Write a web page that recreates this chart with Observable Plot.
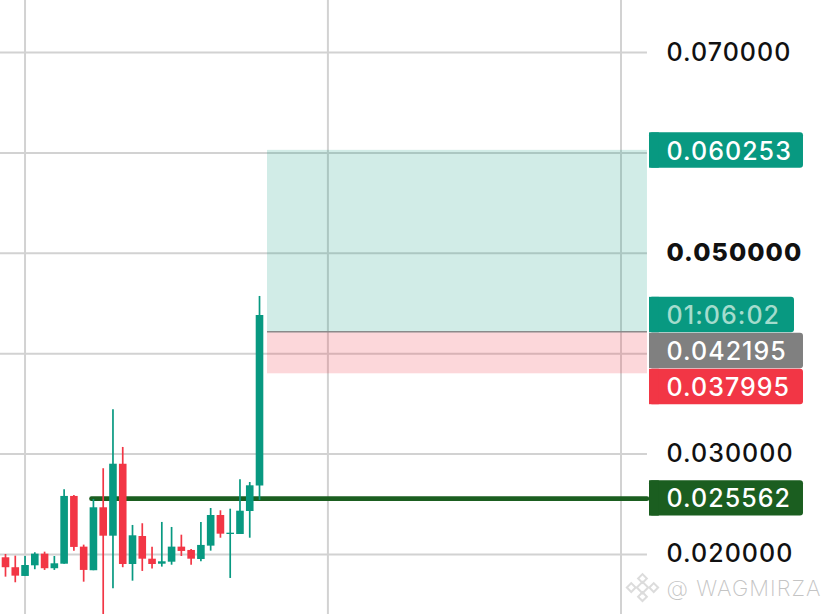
<!DOCTYPE html>
<html>
<head>
<meta charset="utf-8">
<script src="https://cdn.jsdelivr.net/npm/d3@7"></script>
<script src="https://cdn.jsdelivr.net/npm/@observablehq/plot@0.6"></script>
<style>
html,body{margin:0;padding:0;background:#fff;overflow:hidden}
svg{display:block}
</style>
</head>
<body>
<div id="chart"></div>
<script>
const GREEN = "#089981", RED = "#F23645", GREY = "#808080", DARK = "#1B5E20", GRID = "#d2d2d2";

const opens  = [.01967,.01868,.01781,.01887,.02003,.01858,.01903,.02578,.02073,.01838,.02465,.02182,.02899,.01900,.02179,.01953,.01903,.01923,.02073,.02040,.01950,.02083,.02388,.02199,.02199,.02428,.02682];
const closes = [.01868,.01784,.01890,.02003,.01858,.01907,.02578,.02070,.01841,.02465,.02182,.02899,.01900,.02186,.01953,.01900,.01927,.02073,.02030,.01953,.02090,.02388,.02202,.02212,.02431,.02684,.04380];
const highs  = [.02000,.01983,.01980,.02017,.02023,.01980,.02644,.02588,.02093,.02548,.02854,.03441,.03066,.02289,.02306,.02073,.02319,.02269,.02192,.02050,.02319,.02458,.02435,.02451,.02744,.02717,.04570];
const lows   = [.01774,.01718,.01781,.01848,.01841,.01841,.01903,.02033,.01724,.01838,.01380,.01658,.01868,.01734,.01831,.01854,.01874,.01893,.01980,.01893,.01927,.02033,.02162,.01761,.02199,.02162,.02538];
const candles = opens.map((o,i)=>({i,o,c:closes[i],h:highs[i],l:lows[i]}));

const gridPrices = [.02,.03,.04,.05,.06,.07];
const gridIndex = [2,33,63];
const gridEnd = 65.71, zoneStart = 26.82;
const target = .060253, entry = .042195, stop = .037995, level = .025562, levelStart = 8.85;

const axisLabels = [
  {p:.07,t:"0.070000"},{p:.03,t:"0.030000"},{p:.02,t:"0.020000"}
];
const boldLabels = [{p:.05,t:"0.050000"}];
const tags = [
  {p:.060236,t:"0.060253",f:GREEN,c:"#fff",end:81.68},
  {p:.04385,t:"01:06:02",f:GREEN,c:"#a4dccd",end:80.76},
  {p:.04027,t:"0.042195",f:GREY,c:"#fff",end:81.68},
  {p:.03668,t:"0.037995",f:RED,c:"#fff",end:81.68},
  {p:.02558,t:"0.025562",f:DARK,c:"#fff",end:81.68}
];
const tagStart = 65.92, tagText = 67.66, tagHalf = .00176;

const logoBig = [{i:65.2,p:.0167}];
const logoSmall = [{i:64.05,p:.0167},{i:66.35,p:.0167},{i:65.2,p:.0176},{i:65.2,p:.0158}];

const plot = Plot.plot({
  width:828, height:614, margin:0,
  style:{background:"#fff", letterSpacing:"1.05px"},
  x:{domain:[-0.512,84.24], range:[0,828], axis:null},
  y:{domain:[.01402,.07518], range:[614,0], axis:null},
  marks:[
    Plot.ruleY(gridPrices,{y:d=>d,x1:-0.512,x2:gridEnd,stroke:GRID,strokeWidth:2}),
    Plot.ruleX(gridIndex,{x:d=>d,y1:.01402,y2:.07518,stroke:GRID,strokeWidth:2}),
    Plot.rect([0],{x1:zoneStart,x2:gridEnd,y1:entry,y2:target,fill:GREEN,fillOpacity:.19}),
    Plot.rect([0],{x1:zoneStart,x2:gridEnd,y1:stop,y2:entry,fill:RED,fillOpacity:.2}),
    Plot.ruleY([entry],{x1:zoneStart,x2:gridEnd,stroke:"#8a8a8a",strokeWidth:1.5}),
    Plot.ruleY([level],{x1:levelStart,x2:gridEnd,stroke:DARK,strokeWidth:4.6,strokeLinecap:"round"}),
    Plot.ruleX(candles,{x:"i",y1:"l",y2:"h",stroke:d=>d.c>=d.o?GREEN:RED,strokeWidth:1.7}),
    Plot.ruleX(candles,{x:"i",y1:"o",y2:"c",stroke:d=>d.c>=d.o?GREEN:RED,strokeWidth:7.6}),
    Plot.rect(tags,{x1:tagStart,x2:"end",y1:d=>d.p-tagHalf,y2:d=>d.p+tagHalf,fill:"f",rx:3}),
    Plot.rect(tags,{x1:tagStart,x2:tagStart+1,y1:d=>d.p-tagHalf,y2:d=>d.p+tagHalf,fill:"f"}),
    Plot.text(tags,{x:tagText,y:"p",text:"t",fill:"c",textAnchor:"start",fontSize:25,fontFamily:"Inter",fontWeight:500,dy:1}),
    Plot.text(axisLabels,{x:tagText,y:"p",text:"t",fill:"#111",textAnchor:"start",fontSize:25,fontFamily:"Inter",fontWeight:500}),
    Plot.text(boldLabels,{x:tagText,y:"p",text:"t",fill:"#111",textAnchor:"start",fontSize:25,fontFamily:"Inter",fontWeight:800}),
    Plot.dot(logoBig,{x:"i",y:"p",r:4.5,symbol:"square",rotate:45,stroke:"#dcdcdc",strokeWidth:2,fill:"none"}),
    Plot.dot(logoSmall,{x:"i",y:"p",r:3.5,symbol:"square",rotate:45,stroke:"#dcdcdc",strokeWidth:2,fill:"none"}),
    Plot.text(["@ WAGMIRZA"],{x:tagText,y:.0166,text:d=>d,fill:"#c4c4c4",textAnchor:"start",fontSize:22,fontFamily:"Inter",fontWeight:200})
  ]
});
document.getElementById("chart").append(plot);
</script>
</body>
</html>
